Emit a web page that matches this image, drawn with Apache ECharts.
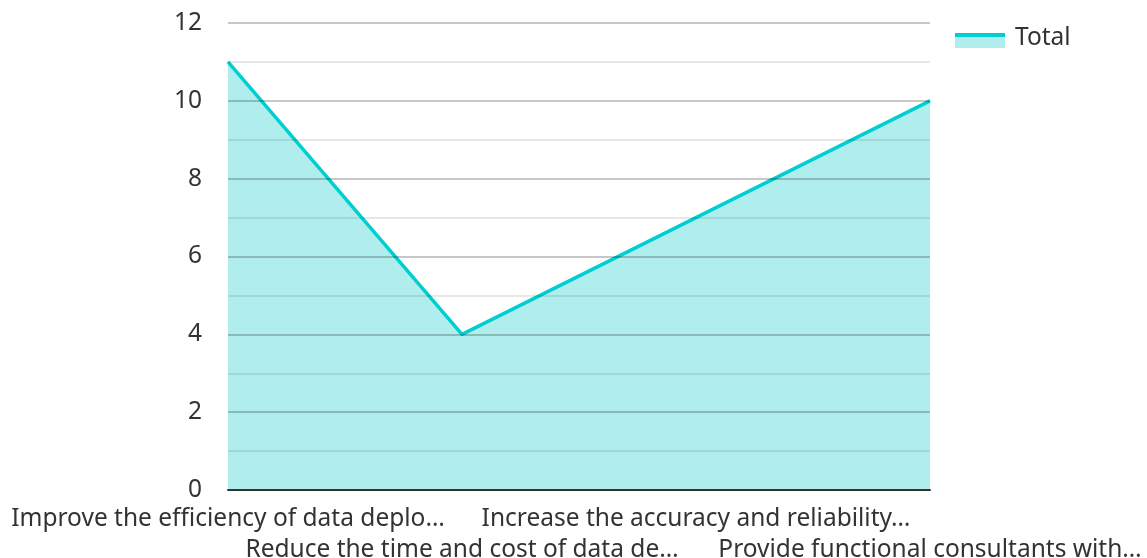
<!DOCTYPE html>
<html><head><meta charset="utf-8">
<script src="https://cdn.jsdelivr.net/npm/echarts@6/dist/echarts.min.js"></script>
<style>html,body{margin:0;padding:0;background:#fff}#c{width:1147px;height:558px}</style>
</head><body><div id="c"></div>
<script>
const categories = [
  "Improve the efficiency of data deplo\u2026",
  "Reduce the time and cost of data de\u2026",
  "Increase the accuracy and reliability\u2026",
  "Provide functional consultants with\u2026"
];
const totalValues = [11, 4, 7, 10];
const seriesName = "Total";

const chart = echarts.init(document.getElementById('c'), null, {renderer: 'canvas'});
const font = "'Noto Sans', 'Open Sans', sans-serif";
chart.setOption({
  animation: false,
  grid: {left: 228, right: 217, top: 23, bottom: 68, containLabel: false, outerBoundsMode: 'none'},
  legend: {
    data: [{name: seriesName, icon: 'rect'}],
    left: 960, top: 26, padding: 0,
    itemWidth: 50, itemHeight: 15, itemGap: 10,
    itemStyle: {color: 'rgba(0,0,0,0)', borderWidth: 0},
    lineStyle: {width: 0},
    textStyle: {fontFamily: font, fontSize: 24.5, color: '#333'}
  },
  graphic: [
    {type: 'rect', left: 955, top: 36, shape: {width: 50, height: 12}, style: {fill: '#b0eeee'}, z: 99},
    {type: 'rect', left: 955, top: 33, shape: {width: 50, height: 4}, style: {fill: '#00ced1'}, z: 100}
  ],
  xAxis: {
    type: 'category', data: categories, boundaryGap: false, z: 6,
    axisLine: {lineStyle: {color: '#333', width: 2}},
    axisTick: {show: false},
    splitLine: {show: false},
    axisLabel: {
      interval: 0, margin: 14, fontFamily: font, fontSize: 24.5, color: '#333', lineHeight: 31,
      formatter: (v, i) => (i % 2 === 1 ? '\n' + v : v)
    }
  },
  yAxis: {
    type: 'value', min: 0, max: 12, interval: 2, z: 5,
    axisLine: {show: false}, axisTick: {show: false},
    axisLabel: {margin: 26, fontFamily: font, fontSize: 24.5, color: '#333'},
    splitLine: {lineStyle: {color: 'rgba(0,0,0,0.22)', width: 2}},
    minorTick: {show: false, splitNumber: 2},
    minorSplitLine: {show: true, lineStyle: {color: 'rgba(0,0,0,0.09)', width: 2}}
  },
  series: [{
    name: seriesName, type: 'line', data: totalValues, z: 2,
    symbol: 'none', showSymbol: false,
    lineStyle: {color: '#00ced1', width: 3.5},
    itemStyle: {color: '#00ced1'},
    areaStyle: {color: '#b0eeee', opacity: 1}
  }]
});
</script></body></html>
